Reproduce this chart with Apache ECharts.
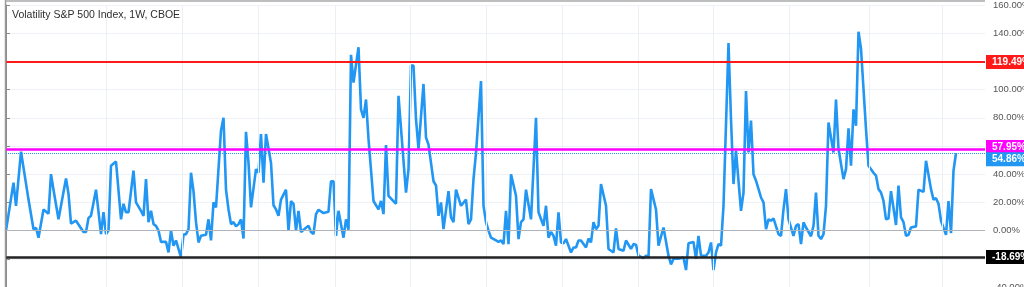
<!DOCTYPE html>
<html><head><meta charset="utf-8">
<script src="https://cdn.jsdelivr.net/npm/echarts@6/dist/echarts.min.js"></script>
<style>html,body{margin:0;padding:0;background:#fff}#c{width:1024px;height:287px}</style>
</head><body><div id="c"></div>
<script>
const chartTitle = 'Volatility S&P 500 Index, 1W, CBOE';

// week index of each traced vertex
const weeks = [
0,3,4,6,9,11,12,13,15,17,18,19,21,24,25,26,28,31,32,33,34,36,38,39,40,41,42,44,46,47,48,49,51,52,
54,55,56,57,58,59,60,61,62,64,65,66,67,68,69,70,71,72,73,74,75,76,77,78,80,81,82,83,84,86,87,88,89,90,91,92,93,94,95,96,97,98,100,101,102,103,104,106,
107,108,109,110,112,113,114,115,116,117,118,120,121,122,123,124,125,127,129,130,131,132,133,135,136,137,138,139,141,142,143,144,145,147,149,150,151,152,153,156,157,159,160,161,162,163,164,165,167,168,169,171,172,173,174,175,177,178,179,180,182,184,185,186,187,188,190,191,192,193,194,196,197,198,199,200,201,202,204,205,206,207,208,210,212,213,215,
216,217,218,219,220,221,222,223,224,226,227,228,229,230,232,233,234,235,236,237,238,240,241,242,243,244,245,247,248,250,251,252,253,255,256,257,258,260,261,263,265,266,267,269,271,272,273,275,276,277,278,280,281,282,283,284,285,286,287,289,290,291,292,294,295,296,297,298,299,300,302,303,304,305,306,307,309,310,311,312,313,315,316,317,318,319,320,322,323,324,325,326,327,328,329,331,332,333,335,336,337,338,339,340,341,342,344,345,347,348,349,350,351,352,353,354,356,357,358,359,360,361,362,364,365,367,368,370,371,372,373,374,376,377,378,379,380
];

// percent values
const changePct = [
0,34,17.6,56,22,1,2,-5,15,12,40,29,8,37,26,5,7,-1,-1,9,10.5,29,-2.5,13,-2.5,0,46,49,8,19,13,13,42.5,20,
14,10.5,36.5,6,14,4.6,3.4,0,-8,-8,-15.5,0,-10.7,-7,-13,-19,-3,-2.5,1,41,28,6,-8.4,-3.7,-3,8,-7,20,16.5,71,80,29,15,4.6,6,3,4.6,8,-5.6,70,48,16.5,43.6,41,68.5,34,68.5,48,
18,15,10.5,22,29,0,21,19,0,14,-1,2,3.4,-1,-2.5,11.7,14.8,12.4,13.4,35,35,-3.7,14,-5,8,0.6,124.7,105,130,86,80,93,65,21,15,21,11.7,60.6,24.7,19,95.6,49.5,27,43.6,117,117,79,58,104,66,61,35,32,10.5,20,1,28,9.3,6,29,17.6,22,4.6,8,36.5,55,106,17.6,6,0,-5,-7,-8,-7,-9.6,14,-9.6,40,24.7,-6,6,8,29,8,80,13,3.4,
17.6,-5,-1,-3.7,-10.7,13,-8.4,-9,-6,-15.5,-12,-12,-7,-7,-12,-5.6,-8.4,6,1,3.4,33,17.6,-13,-14.3,-15.5,1.5,-13,-14.3,-7,-13,-9.6,-10,-17.8,-19.5,-17.8,-19,29.4,15,-10.7,2.2,-17.8,-24,-20,-20,-19,-28,-9,-8,-20,-3.7,-17.8,-17.8,-15.5,-8.4,-28,-15.5,-9.6,-10.7,17.6,133,79,33,56.6,14,27,99,55.4,78,40,35.4,23.5,20,1,8,7,8.6,-2.5,-3.7,15,29.4,8,-3.7,3.4,4.6,-9.6,5.8,2.2,-4,3.4,27,-3.7,-6,-2.5,17.6,76.7,55.4,93,58,36.5,43.6,72.5,46,86,74.4,141,129,72,46,41,39,29.4,27,21,8,8.6,28,4,32,9.3,6,-3.7,-3,2.2,3,29,27.5,49.5,29.4,22,23,19,7,-3,21,-1.8,42.5,54.86
];

// horizontal reference levels
const levelValues = [119.49, 57.95, 54.86, -18.69];
// vertical time grid positions (weeks)
const timeGridWeeks = [40,70.5,101,131.7,161.7,192,222.5,253,283,313.3,345.3,374.5];
// y axis
const yMin = -40, yMax = 160, yStep = 20;
const xMax = 391.6;

const levelStyles = [
  {color:'#ff1a1a', width:2, type:'solid', bg:'#ff1a1a', offset:[0,0]},
  {color:'#ff00ff', width:2.5, type:'solid', bg:'#ff00ff', offset:[0,-2]},
  {color:'#2196f3', width:1, type:'dotted', bg:'#2196f3', offset:[0,6]},
  {color:'#222222', width:2.5, type:'solid', bg:'#000000', offset:[0,0]}
];

const seriesData = weeks.map((w,i)=>[w, changePct[i]]);

const chart = echarts.init(document.getElementById('c'), null, {renderer:'canvas'});

const levelLines = levelValues.map((v,i)=>({
  yAxis: v,
  lineStyle:{color:levelStyles[i].color, width:levelStyles[i].width, type:levelStyles[i].type},
  label:{show:true, position:'end', distance:1, formatter: v.toFixed(2)+'%',
    backgroundColor: levelStyles[i].bg, color:'#fff', fontWeight:'bold', fontSize:10,
    fontFamily:'Liberation Sans', lineHeight:11, padding:[2,6,1,6], offset: levelStyles[i].offset}
}));

const option = {
  animation:false,
  title:{text:chartTitle, left:12, top:10, padding:0,
    textStyle:{fontFamily:'Liberation Sans', fontSize:10.5, fontWeight:'normal', color:'#2f2f2f'}},
  grid:{left:6, right:39, top:5, bottom:0, outerBoundsMode:'none', containLabel:false},
  xAxis:{type:'value', min:0, max:xMax, axisLine:{show:false}, axisTick:{show:false},
    axisLabel:{show:false}, splitLine:{show:false}},
  yAxis:{type:'value', position:'right', z:0, min:yMin, max:yMax, interval:yStep,
    axisLine:{show:true, lineStyle:{color:'#8a8a8a', width:1}},
    axisTick:{show:true, length:4, lineStyle:{color:'#8a8a8a'}},
    axisLabel:{margin:8, fontSize:9.5, color:'#555', fontFamily:'Liberation Sans',
      formatter:v=>v.toFixed(2)+'%'},
    splitLine:{show:true, lineStyle:{color:'#eef1f6', width:1}}},
  graphic:[
    {type:'line', shape:{x1:5.5,y1:0,x2:5.5,y2:287}, style:{stroke:'#9a9a9a', lineWidth:1.5}, z:100},
    {type:'line', shape:{x1:5,y1:1,x2:985,y2:1}, style:{stroke:'#a8a8a8', lineWidth:1.5}, z:100}
  ],
  series:[
    {type:'line', data:[], silent:true, z:1,
      markLine:{silent:true, symbol:'none', animation:false,
        data: timeGridWeeks.map(w=>({xAxis:w, lineStyle:{color:'#eaf0f6', width:1, type:'solid'}, label:{show:false}}))
          .concat([{yAxis:0, lineStyle:{color:'#b0b3ba', width:1, type:'solid'}, label:{show:false}}])
      }},
    {type:'line', data:[], silent:true, z:2,
      markLine:{silent:true, symbol:'none', animation:false, data: levelLines}},
    {type:'line', data:seriesData, showSymbol:false, z:3,
      lineStyle:{color:'#2196f3', width:2.6}, itemStyle:{color:'#2196f3'}}
  ]
};
chart.setOption(option);
</script>
</body></html>
